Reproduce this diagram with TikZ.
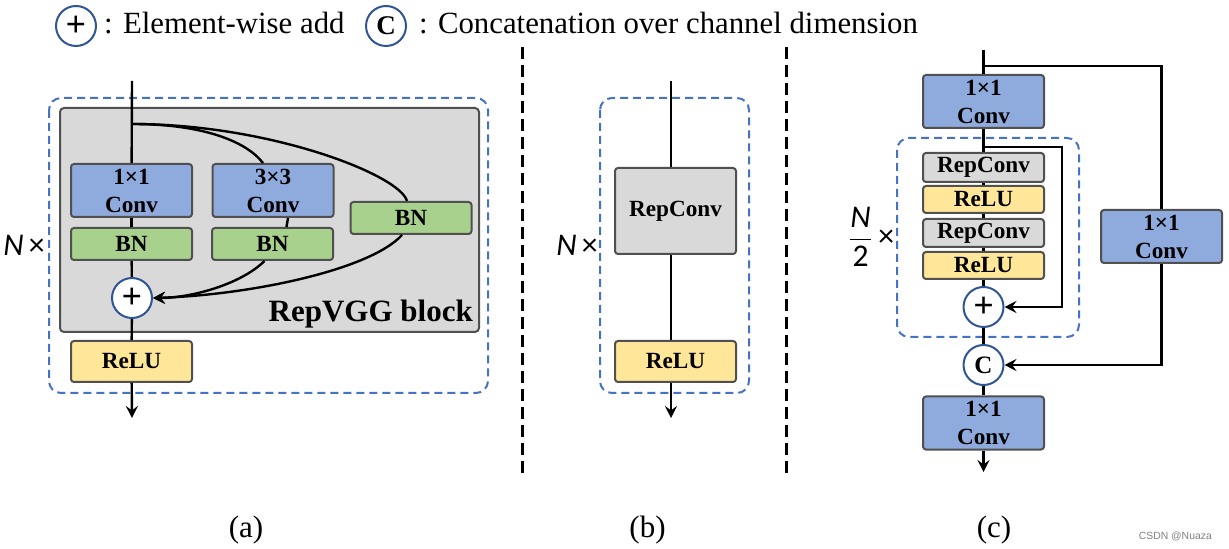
\documentclass[tikz,border=0pt]{standalone}
\usepackage{fontspec}
\setmainfont{Liberation Serif}
\newfontfamily\calfont{Carlito}
\newfontfamily\markfont{Liberation Sans}
\usetikzlibrary{calc}
\usetikzlibrary{arrows.meta}
\usetikzlibrary{positioning}

\definecolor{convblue}{HTML}{8FAADC}
\definecolor{bngreen}{HTML}{A9D18E}
\definecolor{reluyellow}{HTML}{FFE699}
\definecolor{repgray}{HTML}{D9D9D9}
\definecolor{boxgray}{HTML}{505050}
\definecolor{dashblue}{HTML}{4472C4}
\definecolor{circblue}{HTML}{2F5597}

\begin{document}
\begin{tikzpicture}[x=0.5pt,y=-0.5pt,line width=1.2pt,
  blk/.style={draw=boxgray,line width=1pt,rounded corners=1.5pt,minimum width=60.5pt,inner sep=0pt,align=center,font=\fontsize{11.6}{14}\selectfont\bfseries},
  convbox/.style={blk,fill=convblue,minimum height=26.5pt},
  bnbox/.style={blk,fill=bngreen,minimum height=16pt},
  relubox/.style={blk,fill=reluyellow,minimum height=20.5pt},
  repbox/.style={blk,fill=repgray},
  opcirc/.style={circle,draw=circblue,fill=white,line width=1pt,minimum size=20pt,inner sep=0pt},
  plusfont/.style={font=\fontsize{18}{18}\selectfont\bfseries},
  dashbox/.style={draw=dashblue,line width=1pt,dash pattern=on 4pt off 2.5pt,rounded corners=6pt},
  sepline/.style={line width=1.5pt,dash pattern=on 6pt off 3pt},
  arr/.style={-{Stealth[length=6pt,width=6pt,inset=2.2pt]}},
  times/.style={font=\calfont\fontsize{15.8}{16}\selectfont,inner sep=0pt}]

\useasboundingbox (0,0) rectangle (1229,549);

% legend
\node[opcirc,plusfont] (lg-add) at (76,26) {+};
\node[anchor=base west,inner sep=0pt,font=\fontsize{15.4}{16}\selectfont] (lg-addtxt) at (103,34) {: Element-wise add};
\node[opcirc,font=\fontsize{13.5}{14}\selectfont\bfseries] (lg-cat) at (386,26) {C};
\node[anchor=base west,inner sep=0pt,font=\fontsize{15.4}{16}\selectfont] (lg-cattxt) at (418,34) {: Concatenation over channel dimension};

\draw[sepline] (522,47) -- (522,477);
\draw[sepline] (786,47) -- (786,477);

% (a)
\draw[dashbox] (49,98) rectangle (488,393);
\draw[draw=boxgray,fill=repgray,line width=1pt,rounded corners=2pt] (60,108) rectangle (479,332);
\node[anchor=base east,inner sep=0pt,font=\fontsize{15.5}{16}\selectfont\bfseries] (a-name) at (474,322) {RepVGG block};
\node[times] (a-times) at (24,245) {\itshape N\upshape\,×};

\coordinate (a-in) at (132,81);
\coordinate (a-br) at (132,124);
\coordinate (a-out) at (132,418);
\node[convbox] (a-c1) at (131.5,190.5) {1×1\\Conv};
\node[convbox] (a-c3) at (273,190.5) {3×3\\Conv};
\node[bnbox] (a-bn1) at (131.5,244) {BN};
\node[bnbox] (a-bn2) at (272.5,244) {BN};
\node[bnbox] (a-bn3) at (411,218) {BN};
\node[opcirc,plusfont] (a-add) at (132,298) {+};
\node[relubox] (a-relu) at (131.5,361.5) {ReLU};

\draw (a-in) -- (a-c1);
\draw (a-c1) -- (a-bn1);
\draw (a-bn1) -- (a-add);
\draw (a-add) -- (a-relu);
\draw[arr] (a-relu) -- (a-out);
\draw (a-br) .. controls (200,124) and (245,140) .. ([xshift=-5pt]a-c3.north);
\draw (a-br) .. controls (270,124) and (400,175) .. ([xshift=-2pt]a-bn3.north);
\draw ([xshift=7.5pt]a-c3.south) -- ([xshift=7pt]a-bn2.north);
\draw[arr] ([xshift=-4pt]a-bn2.south) .. controls (240,285) and (190,298) .. (a-add.east);
\draw[arr] ([xshift=-4.5pt]a-bn3.south) .. controls (370,270) and (250,295) .. (a-add.east);

% (b)
\draw[dashbox] (600,98) rectangle (749,393);
\node[times] (b-times) at (577,245) {\itshape N\upshape\,×};

\coordinate (b-in) at (671,81);
\coordinate (b-out) at (671,418);
\node[repbox,minimum height=43pt] (b-rep) at (675.5,211) {RepConv};
\node[relubox] (b-relu) at (675.5,361.5) {ReLU};

\draw (b-in) -- (b-in |- b-rep.north);
\draw (b-in |- b-rep.south) -- (b-in |- b-relu.north);
\draw[arr] (b-in |- b-relu.south) -- (b-out);

% (c)
\draw[dashbox] (897,138) rectangle (1079,337);
\node[times] (c-times) at (871,237) {$\displaystyle\frac{\mbox{\calfont\itshape N}}{\mbox{\calfont 2}}$\,×};

\coordinate (c-in) at (983.5,50);
\coordinate (c-br) at (983.5,66);
\coordinate (c-ibr) at (983.5,147);
\coordinate (c-skip) at (1062,147);
\coordinate (c-out) at (983.5,472);
\node[convbox] (c-cv1) at (983.5,101.5) {1×1\\Conv};
\node[repbox,minimum height=14.5pt] (c-rc1) at (983.5,167.5) {RepConv};
\node[relubox,minimum height=13.5pt] (c-rl1) at (983.5,199.5) {ReLU};
\node[repbox,minimum height=14pt] (c-rc2) at (983.5,233) {RepConv};
\node[relubox,minimum height=13.5pt] (c-rl2) at (983.5,265.5) {ReLU};
\node[opcirc,plusfont] (c-add) at (983.5,307) {+};
\node[opcirc,font=\fontsize{12.5}{13}\selectfont\bfseries] (c-cat) at (983.5,365) {C};
\node[convbox] (c-cv2) at (983.5,423) {1×1\\Conv};
\node[convbox] (c-side) at (1161.5,236.5) {1×1\\Conv};

\draw (c-in) -- (c-cv1);
\draw (c-br) -| (c-side);
\draw (c-cv1) -- (c-rc1);
\draw (c-rc1) -- (c-rl1);
\draw (c-rl1) -- (c-rc2);
\draw (c-rc2) -- (c-rl2);
\draw (c-rl2) -- (c-add);
\draw[arr] (c-ibr) -- (c-skip) |- (c-add);
\draw (c-add) -- (c-cat);
\draw[arr] (c-side) |- (c-cat);
\draw (c-cat) -- (c-cv2);
\draw[arr] (c-cv2) -- (c-out);

% captions
\node[anchor=base,inner sep=0pt,font=\fontsize{15.5}{16}\selectfont] (a-cap) at (246,537) {(a)};
\node[anchor=base,inner sep=0pt,font=\fontsize{15.5}{16}\selectfont] (b-cap) at (647.5,537) {(b)};
\node[anchor=base,inner sep=0pt,font=\fontsize{15.5}{16}\selectfont] (c-cap) at (994,537) {(c)};
\node[anchor=base east,inner sep=0pt,text=gray,font=\markfont\fontsize{5.2}{6}\selectfont] (mark) at (1213,539) {CSDN @Nuaza};

\end{tikzpicture}
\end{document}
